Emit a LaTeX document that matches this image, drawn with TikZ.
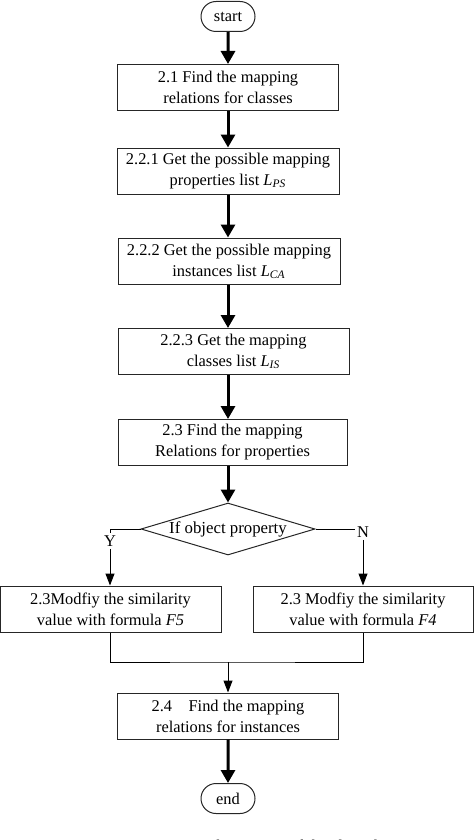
\documentclass[tikz,border=0pt]{standalone}
\usepackage{fontspec}
\setmainfont{Liberation Serif}
\usetikzlibrary{shapes,shapes.geometric,shapes.misc,arrows.meta,positioning,calc}

\tikzset{
    procbox/.style={draw=black!85, line width=0.5pt, align=center, inner sep=1pt,
        minimum height=23pt, font=\fontsize{8.2}{10.5}\selectfont},
    termbox/.style={rounded rectangle, draw=black!85, line width=0.5pt,
        minimum width=29pt, minimum height=15pt, inner sep=1pt,
        font=\fontsize{8.2}{10.5}\selectfont},
    decbox/.style={diamond, draw=black!85, line width=0.5pt, aspect=3.35, inner sep=0pt,
        minimum width=87pt, minimum height=26pt, font=\fontsize{8.4}{10.5}\selectfont},
    lbl/.style={inner sep=1pt, font=\fontsize{8.2}{10.5}\selectfont},
    bigarrow/.style={line width=1.5pt, -{Triangle[length=6.5pt,width=7pt]}},
    thinarrow/.style={line width=0.5pt, -{Triangle[length=6pt,width=4.5pt]}},
}

\begin{document}
\begin{tikzpicture}[x=0.5pt,y=-0.5pt]
    \clip (0,0) rectangle (474,840);

    % Terminals and steps
    \node[termbox] (start) at (228,16.5) {start};
    \node[procbox, minimum width=110.5pt] (s21) at (228,87.5) {2.1 Find the mapping\\relations for classes};
    \node[procbox, minimum width=111pt] (s221) at (228,171) {2.2.1 Get the possible mapping\\properties list \textit{L}\textsubscript{\textit{PS}}};
    \node[procbox, minimum width=111pt] (s222) at (229,261) {2.2.2 Get the possible mapping\\instances list \textit{L}\textsubscript{\textit{CA}}};
    \node[procbox, minimum width=115.5pt] (s223) at (233.5,351.5) {2.2.3 Get the mapping\\classes list \textit{L}\textsubscript{\textit{IS}}};
    \node[procbox, minimum width=114.5pt] (s23) at (232.5,442.5) {2.3 Find the mapping\\Relations for properties};

    % Decision
    \node[decbox] (obj) at (228,529) {If object property};
    \node[lbl] (yes) at (110,541) {Y};
    \node[lbl] (no) at (363,532) {N};

    % Branches
    \node[procbox, minimum width=110.5pt] (f5) at (110.5,609) {2.3Modfiy the similarity\\value with formula \textit{F5}};
    \node[procbox, minimum width=110pt] (f4) at (363,609) {2.3 Modfiy the similarity\\value with formula \textit{F4}};
    \coordinate (merge) at (228,662);

    \node[procbox, minimum width=110.5pt] (s24) at (228,716) {2.4\quad Find the mapping\\relations for instances};
    \node[termbox] (end) at (228,798.5) {end};

    % Caption (cut by the page edge)
    \node[lbl, anchor=base west] (cap) at (145,851) {Figure 4 The process of the algorithm};

    % Main flow
    \draw[bigarrow] (start) -- (s21);
    \draw[bigarrow] (s21) -- (s221);
    \draw[bigarrow] (s221.south) -- (s221.south |- s222.north);
    \draw[bigarrow] (s222.south -| s221) -- (s221 |- s223.north);
    \draw[bigarrow] (s223.south -| s221) -- (s221 |- s23.north);
    \draw[bigarrow] (s23.south -| s221) -- (obj);

    % Y / N branches
    \draw[line width=0.5pt] (obj.west) -| (yes.north);
    \draw[thinarrow] (yes) -- (yes |- f5.north);
    \draw[line width=0.5pt] (obj.east) -- (no.west |- obj.east);
    \draw[thinarrow] (no) -- (f4);

    % Merge
    \draw[line width=0.5pt] (f5.south -| yes) |- (merge) -| (f4.south);
    \draw[thinarrow] (merge) -- (s24);
    \draw[bigarrow] (s24) -- (end);
\end{tikzpicture}
\end{document}
